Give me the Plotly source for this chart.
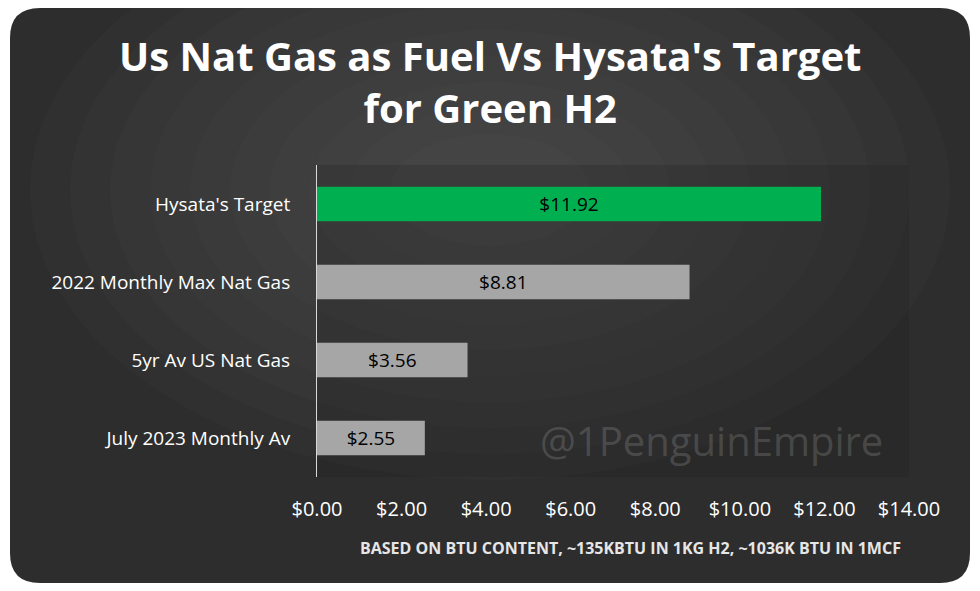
import plotly.graph_objects as go

categories = ["July 2023 Monthly Av", "5yr Av US Nat Gas", "2022 Monthly Max Nat Gas", "Hysata's Target"]
values = [2.55, 3.56, 8.81, 11.92]
bar_colors = ["#a6a6a6", "#a6a6a6", "#a6a6a6", "#00b050"]
tick_vals = [0, 2, 4, 6, 8, 10, 12, 14]

W, H = 980, 591
OFF = 8  # page body margin shifts the figure
L, R, T, B = 317 - OFF, 909 - OFF, 165 - OFF, 477 - OFF  # plot area in figure pixels


def px(x):
    return (x - OFF - L) / (R - L)


def py(y):
    return (B - (y - OFF)) / (B - T)


fig = go.Figure()
fig.add_trace(go.Bar(
    x=values, y=categories, orientation="h",
    marker=dict(color=bar_colors, line=dict(width=0)),
    text=[f"${v:.2f}" for v in values], textposition="inside",
    insidetextanchor="middle",
    textfont=dict(color="black", size=19, family="Open Sans"),
    showlegend=False, width=0.44,
))

# rounded dark panel
x0, x1, y0, y1 = px(10), px(970), py(8), py(583)
rx, ry = px(40) - px(10), py(8) - py(38)
path = (f"M {x0+rx},{y0} L {x1-rx},{y0} Q {x1},{y0} {x1},{y0-ry} "
        f"L {x1},{y1+ry} Q {x1},{y1} {x1-rx},{y1} L {x0+rx},{y1} "
        f"Q {x0},{y1} {x0},{y1+ry} L {x0},{y0-ry} Q {x0},{y0} {x0+rx},{y0} Z")
shapes = [dict(type="path", path=path, xref="paper", yref="paper",
               fillcolor="#2d2d2d", line=dict(width=0), layer="below")]
# fake radial glow with stacked translucent ellipses
for i in range(10):
    hw, hh = 460 - i * 40, 290 - i * 26
    shapes.append(dict(type="circle", xref="paper", yref="paper",
                       x0=px(490 - hw), x1=px(490 + hw),
                       y0=py(190 + hh), y1=py(190 - hh),
                       fillcolor="rgba(110,110,110,0.06)", line=dict(width=0), layer="below"))
# plot area slightly darker
shapes.append(dict(type="rect", xref="paper", yref="paper", x0=0, x1=1, y0=0, y1=1,
                   fillcolor="rgba(30,30,30,0.25)", line=dict(width=0), layer="below"))

fig.update_layout(
    width=W, height=H, paper_bgcolor="white", plot_bgcolor="rgba(0,0,0,0)",
    margin=dict(l=L, r=W - R, t=T, b=H - B, autoexpand=False),
    shapes=shapes,
    font=dict(family="Open Sans", color="white"),
    annotations=[
        dict(text="<b>Us Nat Gas as Fuel Vs Hysata's Target<br>for Green H2</b>",
             x=px(490), y=py(81), xref="paper", yref="paper", showarrow=False,
             xanchor="center", yanchor="middle",
             font=dict(family="Open Sans", size=40, color="white")),
        dict(text="@1PenguinEmpire", x=px(885), y=py(440), xref="paper", yref="paper",
             xanchor="right", yanchor="middle", showarrow=False,
             font=dict(size=40, color="rgba(150,150,150,0.3)")),
        dict(text="<b>BASED ON BTU CONTENT, ~135KBTU IN 1KG H2, ~1036K BTU IN 1MCF</b>",
             x=px(630), y=py(548), xref="paper", yref="paper", showarrow=False,
             xanchor="center", yanchor="middle",
             font=dict(size=16, color="#e6e6e6")),
    ],
)
fig.update_xaxes(range=[0, 14], tickvals=tick_vals, tickformat="$.2f",
                 showgrid=False, zeroline=False, showline=False,
                 tickfont=dict(size=20, color="white"), ticklabelstandoff=18)
fig.update_yaxes(showgrid=False, zeroline=False, showline=True, linecolor="#d9d9d9",
                 linewidth=1, tickfont=dict(size=19, color="white"),
                 ticks="", ticklabelstandoff=22)

fig.write_html("out.html")
